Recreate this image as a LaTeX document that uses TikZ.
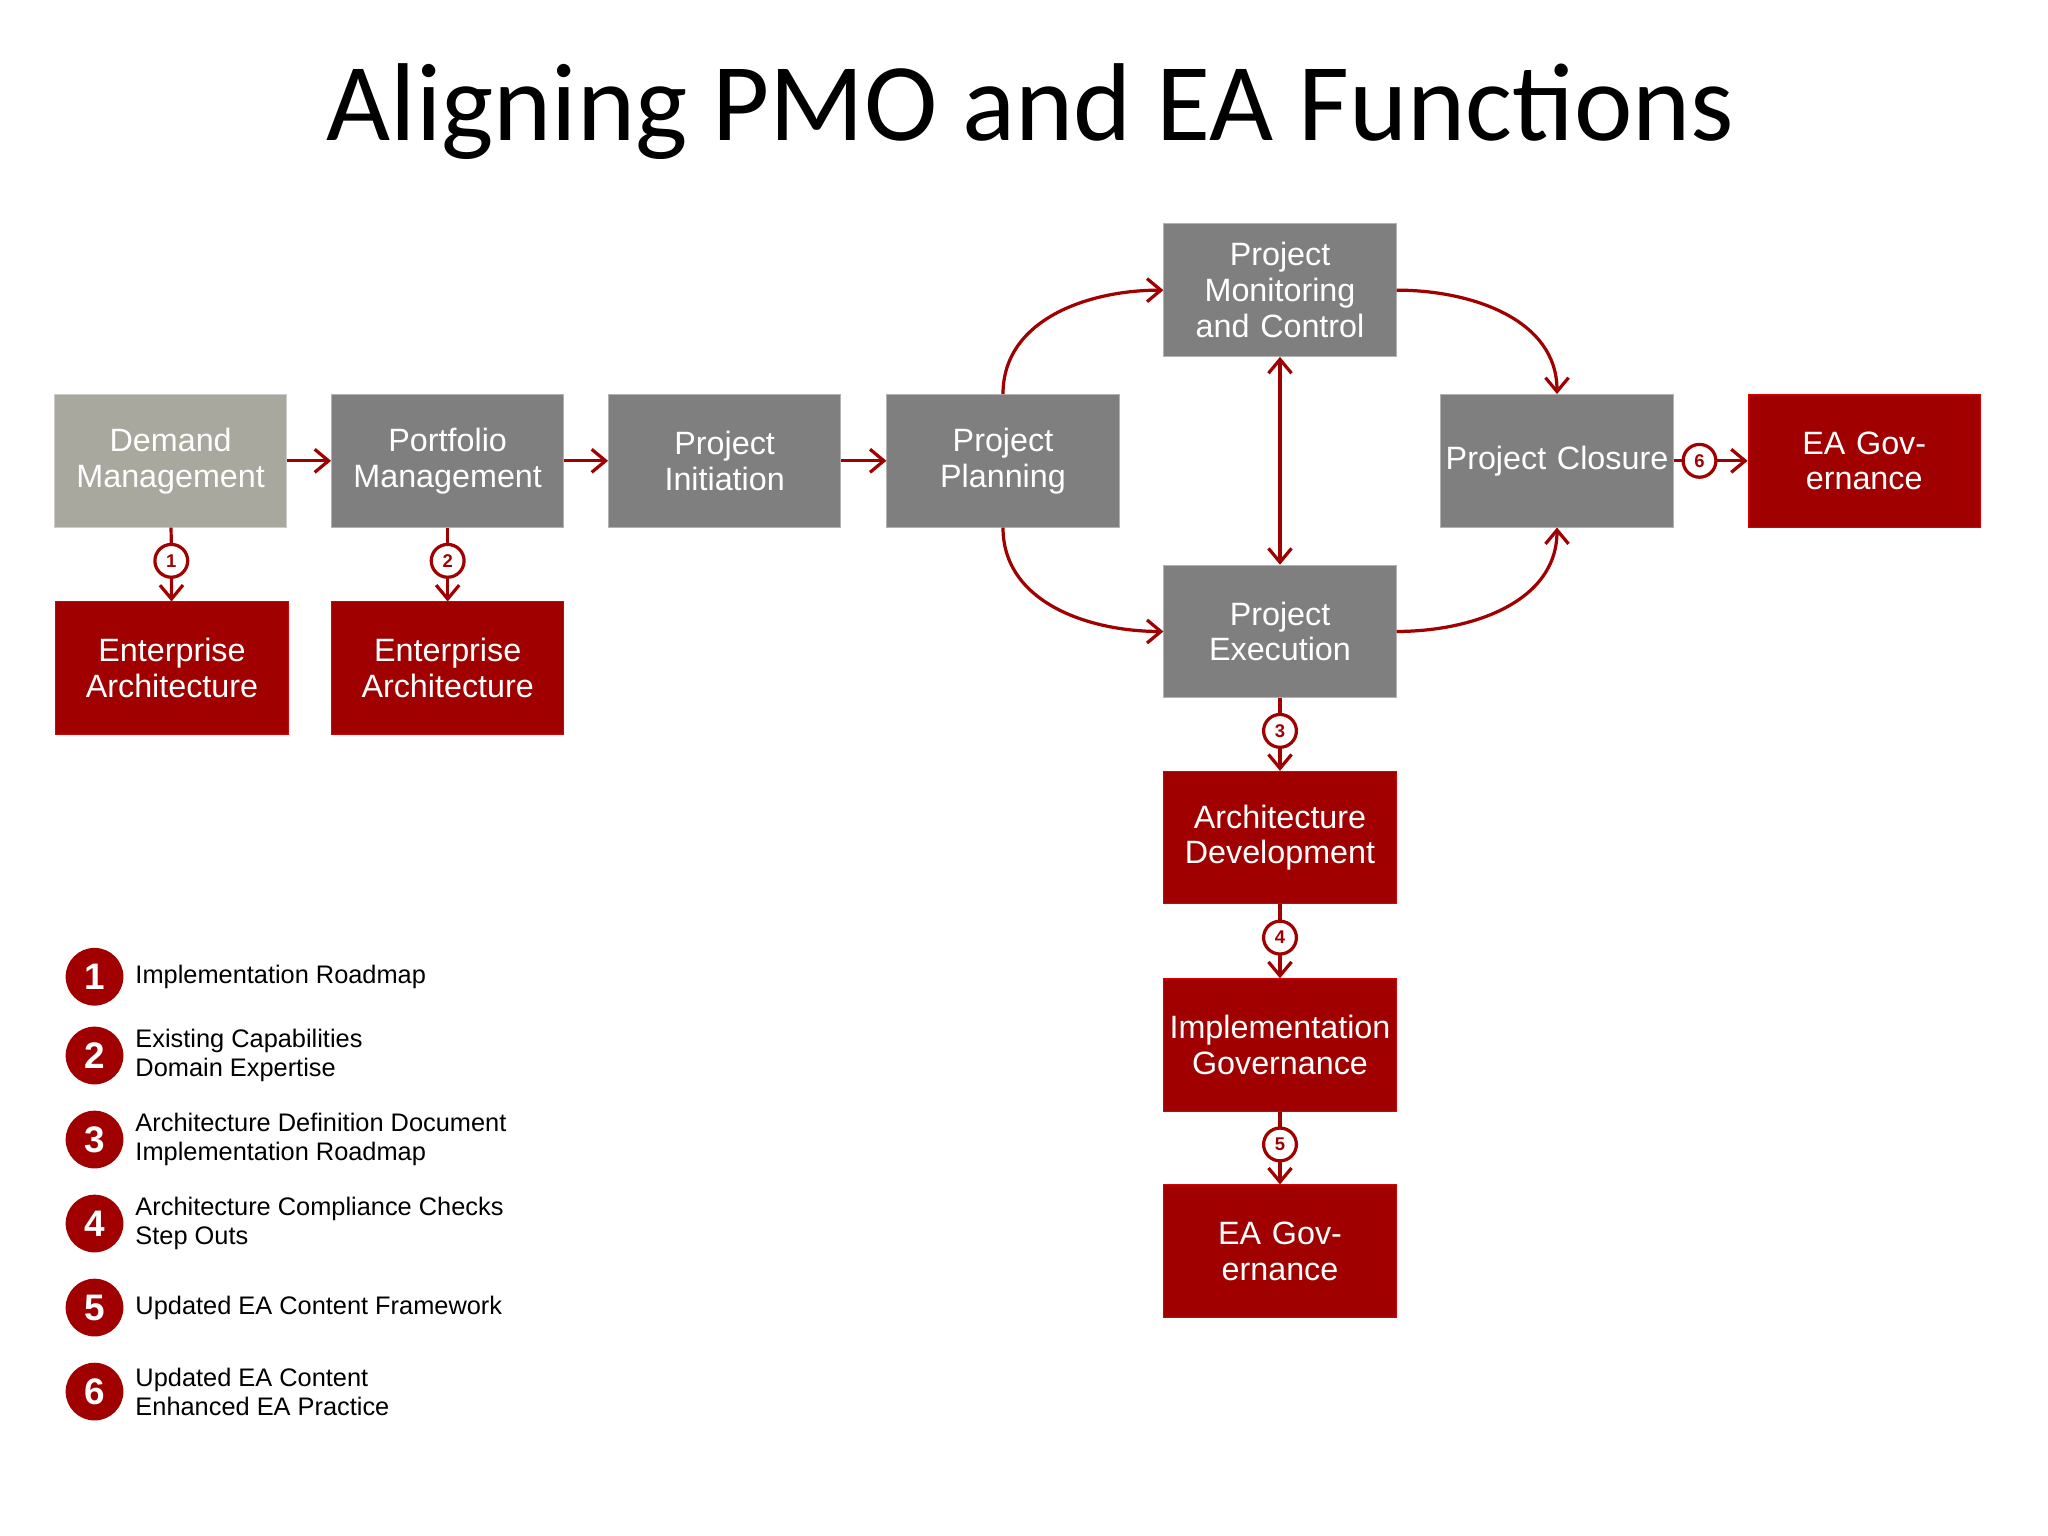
\documentclass[tikz,border=0pt]{standalone}
\usepackage{fontspec}
\setmainfont{Liberation Sans}
\newfontfamily\titlefont{Carlito}
\usetikzlibrary{arrows.meta}
\definecolor{eared}{HTML}{A00000}
\definecolor{pmogray}{HTML}{7F7F7F}
\definecolor{pmolight}{HTML}{A8A89F}
\begin{document}
\begin{tikzpicture}[
    x=0.02cm, y=-0.02cm,
    box/.style={minimum width=3.54cm, minimum height=2.02cm, text width=3.5cm, align=center,
      text=white, font=\fontsize{14}{15.5}\selectfont, inner sep=0pt},
    pmo/.style={box, fill=pmogray, draw=gray!60},
    ea/.style={box, fill=eared, draw=red!60!eared},
    flow/.style={-{Straight Barb[length=6pt,width=10pt]}, eared, line width=1.4pt},
    badge/.style={circle, draw=eared, fill=white, text=eared, inner sep=0pt, minimum size=0.5cm,
      font=\fontsize{8}{8}\selectfont\bfseries},
    key/.style={circle, fill=eared, text=white, minimum size=0.88cm, inner sep=0pt,
      font=\fontsize{16}{16}\selectfont\bfseries},
    keytext/.style={anchor=west, align=left, font=\fontsize{11}{12.5}\selectfont}
    ]
    \useasboundingbox (0,0) rectangle (1560,1170);

    % Titel
    \node[font=\titlefont\fontsize{48}{56}\selectfont] (title) at (785,85) {Aligning PMO and EA Functions};

    % PMO-Prozess
    \node[box, fill=pmolight, draw=gray!40] (demand) at (130,351) {Demand Management};
    \node[pmo] (portfolio) at (341,351) {Portfolio Management};
    \node[pmo] (init) at (552,351) {Project Initiation};
    \node[pmo] (plan) at (764,351) {Project Planning};
    \node[pmo] (monitor) at (975,221) {Project Monitoring and Control};
    \node[pmo] (exec) at (975,481) {Project Execution};
    \node[pmo] (closure) at (1186,351) {Project Closure};

    % EA-Bausteine
    \node[ea] (eagovR) at (1420,351) {EA Governance};
    \node[ea] (ea1) at (131,509) {Enterprise Architecture};
    \node[ea] (ea2) at (341,509) {Enterprise Architecture};
    \node[ea] (archdev) at (975,638) {Architecture Development};
    \node[ea] (implgov) at (975,796) {Implementation Governance};
    \node[ea] (eagovB) at (975,953) {EA Governance};

    % Fluss
    \draw[flow] (demand) -- (portfolio);
    \draw[flow] (portfolio) -- (init);
    \draw[flow] (init) -- (plan);
    \draw[flow] (plan.north) to[out=90, in=180] (monitor.west);
    \draw[flow] (plan.south) to[out=-90, in=180] (exec.west);
    \draw[flow] (monitor.east) to[out=0, in=90] (closure.north);
    \draw[flow] (exec.east) to[out=0, in=-90] (closure.south);
    \draw[flow, {Straight Barb[length=6pt,width=10pt]}-{Straight Barb[length=6pt,width=10pt]}] (monitor) -- (exec);

    % Nummerierte Übergaben
    \foreach \src/\dst/\num in {demand/ea1/1, portfolio/ea2/2, exec/archdev/3, archdev/implgov/4, implgov/eagovB/5} {
      \draw[flow] (\src) -- node[badge, pos=0.45] (b\num) {\num} (\dst);
    }
    \draw[flow] (closure) -- node[badge, pos=0.35] (b6) {6} (eagovR);

    % Legende
    \foreach \num/\y/\txt in {
        1/744/{Implementation Roadmap},
        2/804/{Existing Capabilities\\Domain Expertise},
        3/868/{Architecture Definition Document\\Implementation Roadmap},
        4/932/{Architecture Compliance Checks\\Step Outs},
        5/996/{Updated EA Content Framework},
        6/1060/{Updated EA Content\\Enhanced EA Practice}} {
      \node[key] (k\num) at (72,\y) {\num};
      \node[keytext] (t\num) at (97,\y) {\txt};
    }
\end{tikzpicture}
\end{document}
